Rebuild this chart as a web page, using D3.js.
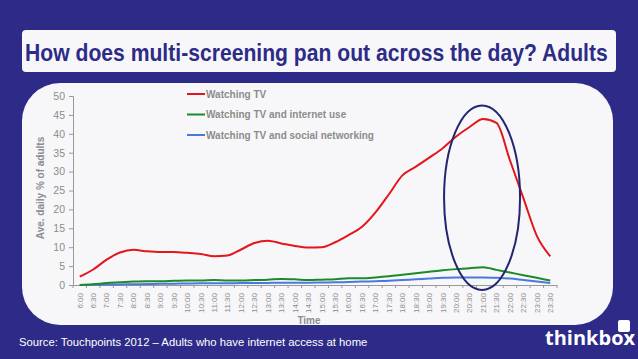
<!DOCTYPE html>
<html><head><meta charset="utf-8">
<script src="https://cdn.jsdelivr.net/npm/d3@7"></script>
<style>body{margin:0;background:#2d2b87;}svg{display:block;font-family:"Liberation Sans",Arial,sans-serif;}</style>
</head><body>
<script>
const times = ["6:00","6:30","7:00","7:30","8:00","8:30","9:00","9:30","10:00","10:30","11:00","11:30","12:00","12:30","13:00","13:30","14:00","14:30","15:00","15:30","16:00","16:30","17:00","17:30","18:00","18:30","19:00","19:30","20:00","20:30","21:00","21:30","22:00","22:30","23:00","23:30"];
const watchingTV = [2.2,4.1,6.7,8.6,9.3,8.9,8.7,8.7,8.5,8.2,7.6,7.8,9.4,11.1,11.7,11.0,10.3,9.9,10.0,11.3,13.2,15.4,19.2,24.0,29.0,31.3,33.7,36.2,39.3,41.8,43.9,42.9,33.0,23.0,13.0,7.6];
const tvInternet = [0,0.2,0.5,0.7,0.9,1.0,1.0,1.1,1.2,1.2,1.3,1.2,1.2,1.3,1.4,1.6,1.5,1.3,1.4,1.5,1.8,1.8,2.0,2.3,2.7,3.1,3.5,3.9,4.2,4.4,4.7,4.0,3.3,2.6,1.9,1.2];
const tvSocial = [0,0.05,0.1,0.15,0.2,0.25,0.3,0.35,0.4,0.45,0.45,0.45,0.5,0.5,0.55,0.6,0.6,0.6,0.65,0.7,0.8,0.9,1.0,1.1,1.3,1.5,1.7,1.9,2.0,2.0,2.0,1.9,1.7,1.3,0.9,0.5];
const seriesNames = ["Watching TV","Watching TV and internet use","Watching TV and social networking"];
const yTicks = [0,5,10,15,20,25,30,35,40,45,50];
const titleText = "How does multi-screening pan out across the day? Adults";
const sourceText = "Source: Touchpoints 2012 \u2013 Adults who have internet access at home";

const W = 638, H = 359;
const navy = "#2d2b87";
const colors = ["#e3161c","#1c8a28","#4a78e0"];
const svg = d3.select("body").append("svg").attr("width",W).attr("height",H);
svg.append("rect").attr("width",W).attr("height",H).attr("fill",navy);

// title box
svg.append("rect").attr("x",22).attr("y",30).attr("width",594).attr("height",42).attr("rx",4).attr("fill","#f7f7f9");
const t = svg.append("text").attr("x",0).attr("y",0).attr("fill",navy).attr("font-weight","bold").attr("font-size",23).text(titleText);
const tl = t.node().getComputedTextLength();
t.attr("transform",`translate(25,61) scale(${583/tl},1)`);

// panel
svg.append("rect").attr("x",22).attr("y",83).attr("width",591).attr("height",242).attr("rx",38).attr("fill","#f7f7f9");

const x = d3.scaleBand().domain(times).range([73,557]);
const y = d3.scaleLinear().domain([0,50]).range([285,96]);
const cx = d => x(d)+x.bandwidth()/2;

const gray = "#8c8c8c";
// y axis
const ya = svg.append("g").attr("transform","translate(73,0)")
  .call(d3.axisLeft(y).tickValues(yTicks).tickSize(4).tickPadding(4));
ya.select(".domain").attr("stroke","#999");
ya.selectAll(".tick line").attr("stroke","#999");
ya.selectAll("text").attr("fill",gray).attr("font-size",10.5).attr("font-family","Liberation Sans, Arial");

// x axis
const xa = svg.append("g").attr("transform","translate(0,285)")
  .call(d3.axisBottom(x).tickSize(0).tickPadding(6));
xa.select(".domain").attr("stroke","#999");
xa.selectAll("text").attr("fill",gray).attr("font-size",8).attr("font-family","Liberation Sans, Arial")
  .attr("transform","rotate(-90)").attr("text-anchor","end").attr("dy","0.35em").attr("y",0).attr("x",-8);
svg.append("g").selectAll("line").data(times.concat(["end"])).join("line")
  .attr("x1",(d,i)=>73+i*x.bandwidth()).attr("x2",(d,i)=>73+i*x.bandwidth())
  .attr("y1",285).attr("y2",288).attr("stroke","#999");

// axis titles
svg.append("text").attr("transform","translate(44,188) rotate(-90)").attr("text-anchor","middle")
  .attr("fill",gray).attr("font-size",10).attr("font-weight","bold").text("Ave. daily % of adults");
svg.append("text").attr("x",309).attr("y",324).attr("text-anchor","middle")
  .attr("fill",gray).attr("font-size",10).attr("font-weight","bold").text("Time");

// lines
const line = d3.line().x((d,i)=>cx(times[i])).y(d=>y(d)).curve(d3.curveMonotoneX);
const data = [watchingTV,tvInternet,tvSocial];
[2,1,0].forEach(k=>{
  svg.append("path").attr("d",line(data[k])).attr("fill","none").attr("stroke",colors[k]).attr("stroke-width",2);
});

// legend
seriesNames.forEach((n,i)=>{
  const yy = 94 + i*20.5;
  svg.append("line").attr("x1",187).attr("x2",205).attr("y1",yy).attr("y2",yy).attr("stroke",colors[i]).attr("stroke-width",2);
  svg.append("text").attr("x",206).attr("y",yy+3.5).attr("fill",gray).attr("font-size",10).attr("font-weight","bold").text(n);
});

// ellipse highlight
const ecy = (y(47.5)+y(-1.3))/2, ery = (y(-1.3)-y(47.5))/2;
svg.append("ellipse").attr("cx",cx("21:00")-1).attr("cy",ecy).attr("rx",38).attr("ry",ery)
  .attr("fill","none").attr("stroke","#232570").attr("stroke-width",2);

// source
svg.append("text").attr("x",19).attr("y",346).attr("fill","#ffffff").attr("font-size",11.3).text(sourceText);
// logo
svg.append("text").attr("x",545).attr("y",345).attr("fill","#ffffff").attr("font-size",20).attr("font-weight","bold")
  .attr("font-family","Open Sans, Liberation Sans, Arial").text("thinkbox");
svg.append("rect").attr("x",618).attr("y",320).attr("width",12).attr("height",12).attr("rx",2).attr("fill","#ffffff");
</script>
</body></html>
